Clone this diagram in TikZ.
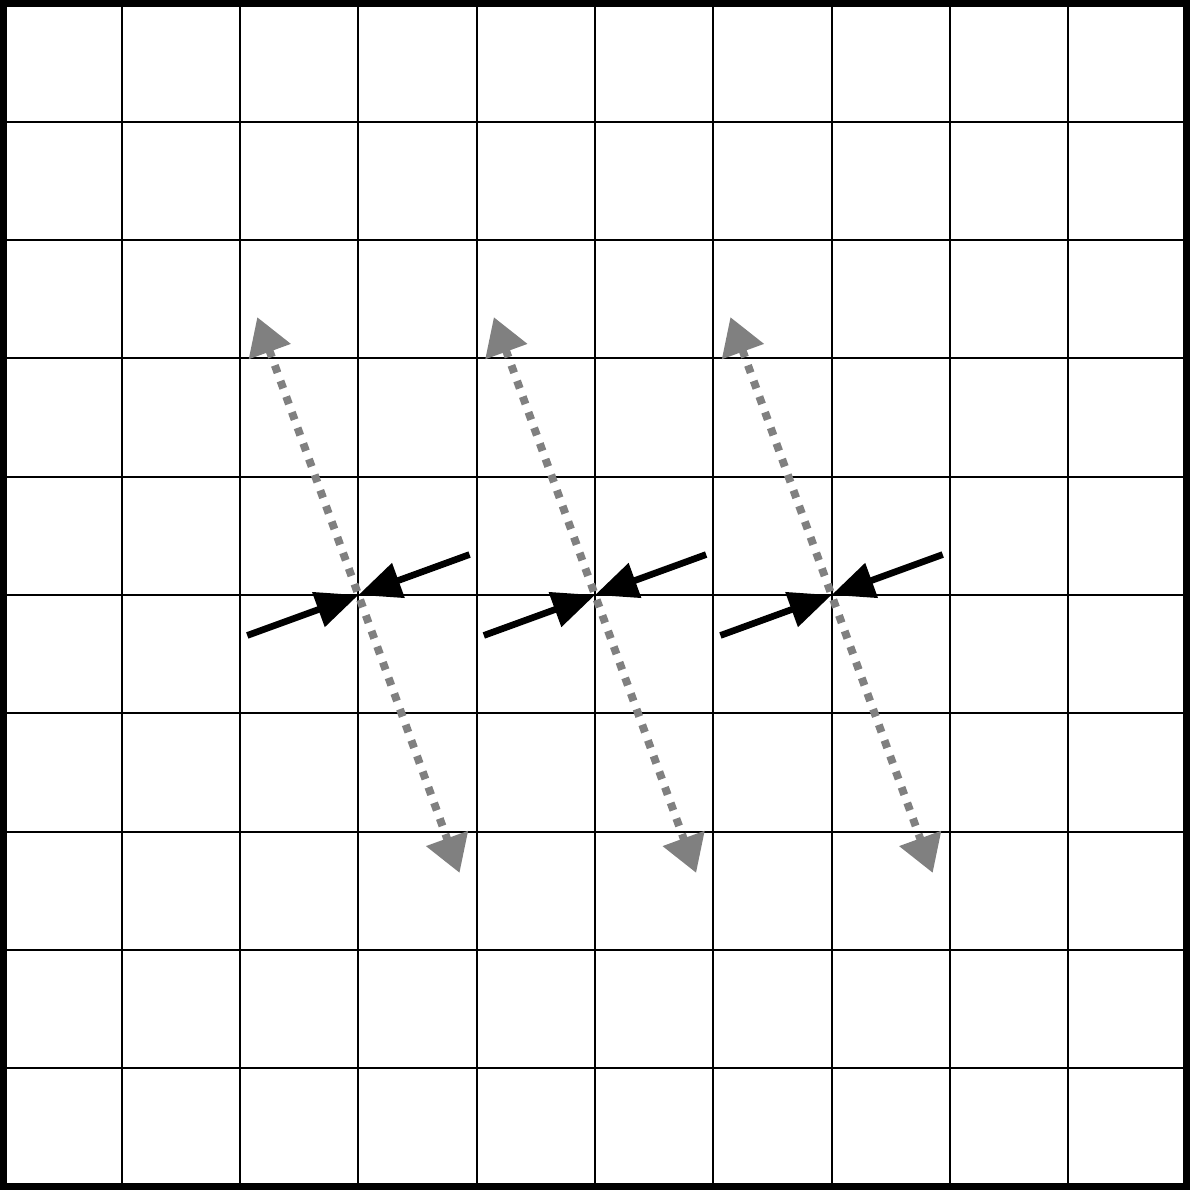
\documentclass[tikz,border=0pt]{standalone}
\usetikzlibrary{arrows.meta}
\begin{document}
\begin{tikzpicture}[x=1cm,y=1cm,
  gridline/.style={line width=0.45pt, black},
  frame/.style={line width=1.7pt, black},
  push/.style={line width=1.6pt, black, -{Triangle[length=0.36cm,width=0.3cm]}},
  axisline/.style={gray, line width=1.9pt, dash pattern=on 1.9pt off 2.1pt,
    {Triangle[length=0.31cm,width=0.36cm]}-{Triangle[length=0.31cm,width=0.36cm]}}]
\useasboundingbox (-0.03,-0.03) rectangle (10.03,10.03);
\draw[gridline] (0,0) grid (10,10);
\draw[frame] (0,0) rectangle (10,10);
\foreach \n/\x in {a/3,b/5,c/7}{
  \coordinate (c\n) at (\x,5);
  \path (c\n) ++(200:1) coordinate (l\n);
  \path (c\n) ++(20:1) coordinate (r\n);
  \path (c\n) ++(110:2.5) coordinate (t\n);
  \path (c\n) ++(290:2.5) coordinate (b\n);
  \draw[push] (l\n) -- (c\n);
  \draw[push] (r\n) -- (c\n);
  \draw[axisline] (t\n) -- (b\n);
}
\end{tikzpicture}
\end{document}
